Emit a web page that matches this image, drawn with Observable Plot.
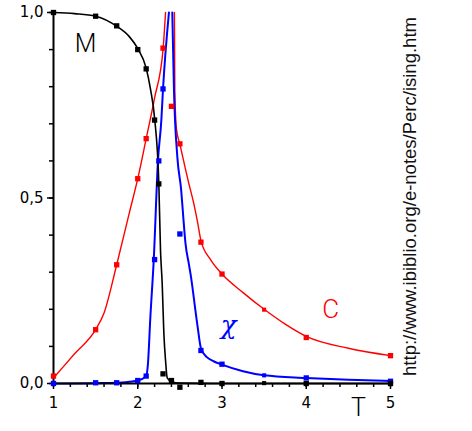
<!DOCTYPE html>
<html>
<head>
<meta charset="utf-8">
<script src="https://cdn.jsdelivr.net/npm/d3@7"></script>
<script src="https://cdn.jsdelivr.net/npm/@observablehq/plot@0.6"></script>
<style>
  body { margin: 0; background: #fff; }
</style>
</head>
<body>
<div id="chart"></div>
<script>
// measured points (squares)
const mT = [1, 1.5, 1.75, 2.0, 2.1, 2.2, 2.25, 2.3, 2.4, 2.5, 2.75, 3, 3.5, 4, 5];
const mV = [1.0, 0.99, 0.964, 0.90, 0.848, 0.71, 0.538, 0.026, 0.008, -0.01, 0.003, 0, 0.001, 0, 0];

const cT = [1, 1.5, 1.75, 2.0, 2.1, 2.3, 2.4, 2.5, 2.75, 3, 3.5, 4, 5];
const cV = [0.02, 0.145, 0.32, 0.552, 0.66, 0.904, 0.747, 0.646, 0.381, 0.295, 0.199, 0.124, 0.075];

const xiT = [1, 1.5, 1.75, 2.0, 2.1, 2.2, 2.25, 2.3, 2.5, 2.75, 3, 3.5, 4, 5];
const xiV = [0, 0.002, 0.002, 0.008, 0.02, 0.334, 0.6, 0.794, 0.403, 0.089, 0.052, 0.022, 0.015, 0.006];

// fitted curves (null = curve leaves the frame at the top)
const mFitT = [1.0, 1.25, 1.5, 1.75, 1.9, 2.0, 2.1, 2.15, 2.2, 2.25, 2.27, 2.29, 2.31, 2.33, 2.35, 2.4, 2.5, 3, 4, 5];
const mFitV = [1.0, 0.997, 0.99, 0.963, 0.935, 0.903, 0.85, 0.795, 0.715, 0.54, 0.36, 0.27, 0.135, 0.062, 0.015, 0.005, 0.001, 0, 0, 0];

const cFitT = [1.0, 1.25, 1.5, 1.6, 1.75, 1.9, 2.0, 2.1, 2.2, 2.3, 2.33, 2.38, 2.435, 2.44, 2.46, 2.5, 2.6, 2.66, 2.71, 2.75, 2.86, 3.0, 3.25, 3.5, 3.75, 4.0, 4.5, 5.0];
const cFitV = [0.015, 0.08, 0.145, 0.19, 0.32, 0.46, 0.552, 0.66, 0.77, 0.9, 1.0, null, 1.0, 0.79, 0.685, 0.645, 0.545, 0.49, 0.435, 0.385, 0.335, 0.295, 0.245, 0.2, 0.16, 0.127, 0.095, 0.075];

const xiFitT = [1.0, 1.5, 1.75, 1.9, 2.0, 2.1, 2.12, 2.15, 2.19, 2.24, 2.28, 2.3, 2.37, 2.39, 2.41, 2.43, 2.47, 2.516, 2.54, 2.567, 2.606, 2.626, 2.706, 2.75, 2.82, 2.9, 3.0, 3.25, 3.5, 4.0, 4.5, 5.0];
const xiFitV = [0, 0.001, 0.002, 0.005, 0.008, 0.02, 0.05, 0.18, 0.334, 0.6, 0.71, 0.794, 1.0, null, 1.0, 0.79, 0.61, 0.52, 0.45, 0.377, 0.323, 0.296, 0.161, 0.095, 0.071, 0.06, 0.051, 0.033, 0.022, 0.015, 0.01, 0.007];

// axis ticks
const yMajor = [0, 0.5, 1.0];
const yMinor = d3.range(0, 1.001, 0.1);
const xMajor = [1, 2, 3, 4, 5];
const xMinor = d3.range(1, 5.001, 0.2);

const rows = (ts, vs) => ts.map((t, i) => ({t, v: vs[i]}));
const comma = d => d.toFixed(1).replace(".", ",");
const sq = d => (d.t === 3.5 ? 2.4 : 4);
const tickFont = "DejaVu Sans, sans-serif";

const chart = Plot.plot({
  width: 472,
  height: 431,
  marginLeft: 53,
  marginRight: 82,
  marginTop: 12,
  marginBottom: 48,
  x: {domain: [1, 5]},
  y: {domain: [0, 1]},
  style: {fontFamily: "Liberation Sans, Arial, sans-serif", fontSize: 15, color: "black", background: "white"},
  marks: [
    Plot.axisY({ticks: yMinor, tickSize: 4, tickFormat: () => "", label: null, strokeWidth: 1.5}),
    Plot.axisY({ticks: yMajor, tickSize: 6, tickPadding: 4, tickFormat: comma, label: null, strokeWidth: 1.5, fontSize: 15, fontFamily: tickFont}),
    Plot.axisX({ticks: xMinor, tickSize: 4, tickFormat: () => "", label: null, strokeWidth: 1.5}),
    Plot.axisX({ticks: xMajor, tickSize: 6, tickPadding: 8, tickFormat: d => d, label: null, strokeWidth: 1.5, fontSize: 15, fontFamily: tickFont}),

    Plot.line(rows(cFitT, cFitV), {x: "t", y: "v", stroke: "#ff0000", strokeWidth: 1.4, curve: "monotone-x"}),
    Plot.line(rows(xiFitT, xiFitV), {x: "t", y: "v", stroke: "#0000ff", strokeWidth: 2, curve: "monotone-x"}),
    Plot.line(rows(mFitT, mFitV), {x: "t", y: "v", stroke: "black", strokeWidth: 1.6, curve: "monotone-x"}),

    Plot.ruleX([1], {y1: 0, y2: 1, strokeWidth: 2}),
    Plot.ruleY([0], {x1: 1, x2: 5, strokeWidth: 2}),

    Plot.dot(rows(cT, cV), {x: "t", y: "v", symbol: "square", fill: "#ff0000", r: sq}),
    Plot.dot(rows(xiT, xiV), {x: "t", y: "v", symbol: "square", fill: "#0000ff", r: sq}),
    Plot.dot(rows(mT, mV), {x: "t", y: "v", symbol: "square", fill: "black", r: sq}),

    Plot.text(["M"], {x: 1.38, y: 0.915, fontSize: 25, fontWeight: 300, fontFamily: "Roboto, sans-serif", fill: "black"}),
    Plot.text(["C"], {x: 4.29, y: 0.2, fontSize: 26, fontWeight: 300, fontFamily: "Roboto, sans-serif", fill: "#ff0000"}),
    Plot.text(["χ"], {x: 3.08, y: 0.157, fontSize: 26, fontStyle: "italic", fontFamily: "DejaVu Serif, serif", fill: "#0000ff"}),
    Plot.text(["T"], {x: 4.62, y: -0.067, fontSize: 25, fontWeight: 300, fontFamily: "Roboto, sans-serif", fill: "black"}),
    Plot.text(["http://www.ibiblio.org/e-notes/Perc/ising.htm"], {frameAnchor: "right", textAnchor: "middle", dx: 20, dy: -1.5, rotate: -90, fontSize: 18.5, fill: "#111"})
  ]
});

d3.select("#chart").append(() => chart);
</script>
</body>
</html>
